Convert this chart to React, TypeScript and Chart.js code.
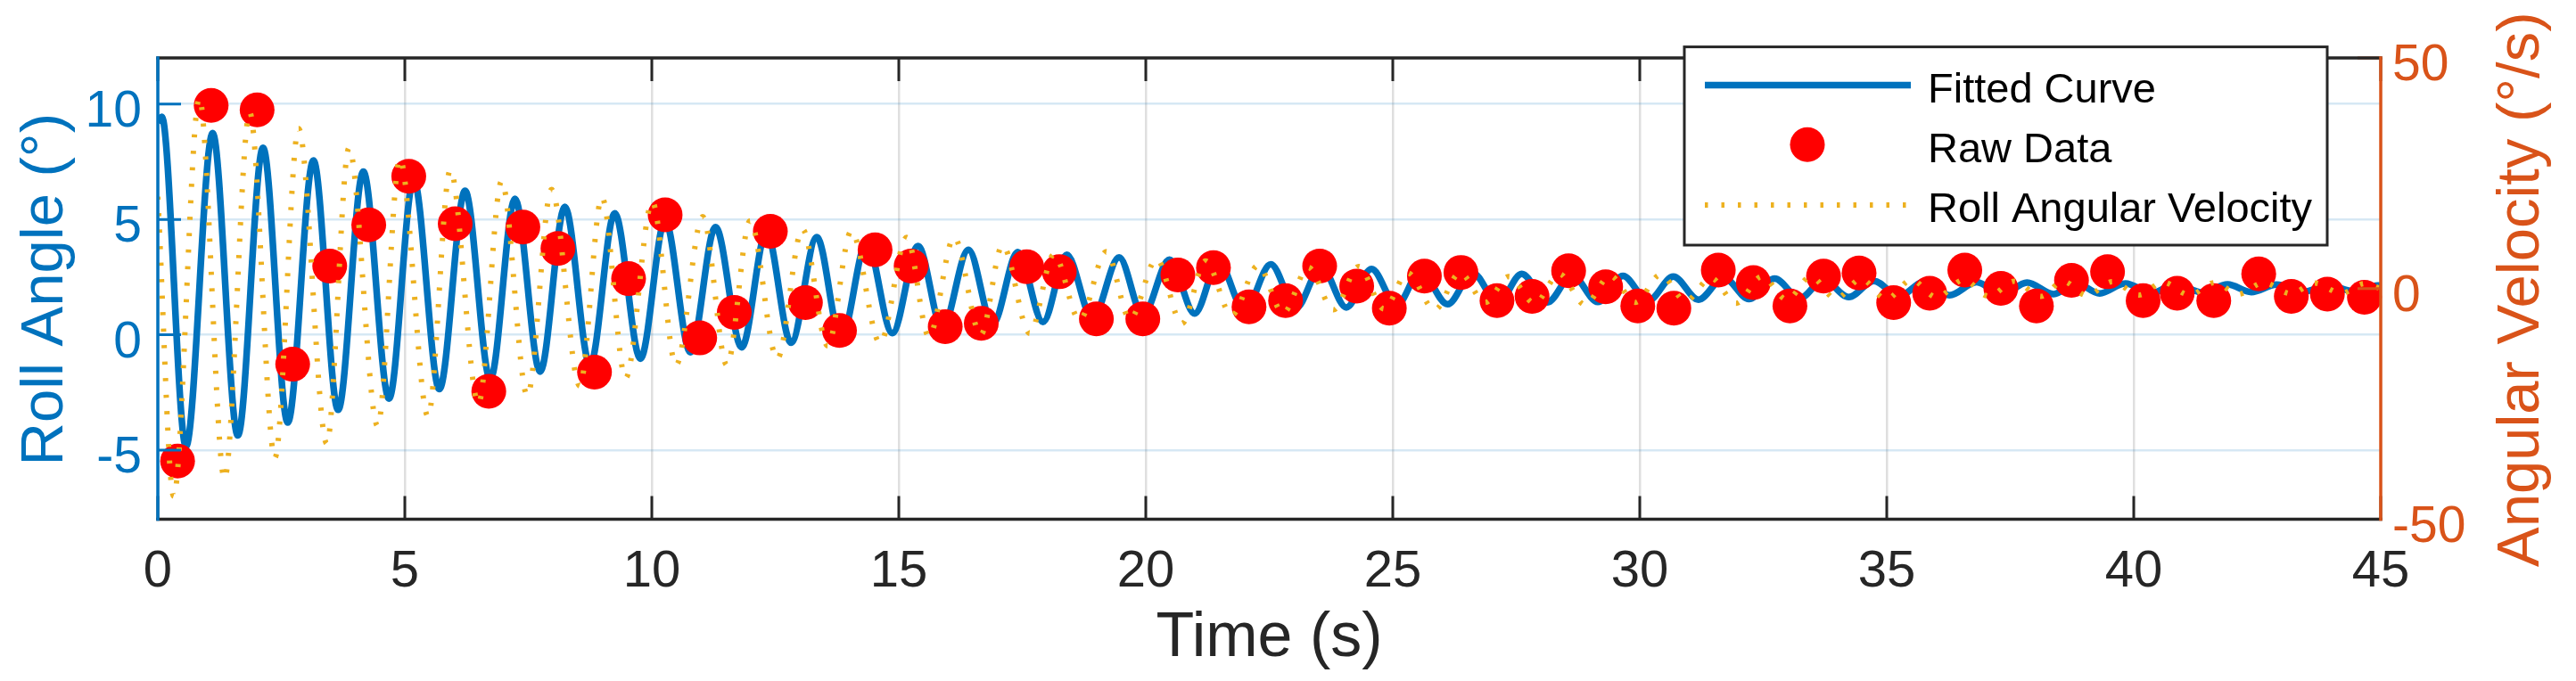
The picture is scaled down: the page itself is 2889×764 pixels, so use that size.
import React, { useEffect, useRef } from 'react';
import { Chart, registerables } from 'chart.js';

Chart.register(...registerables);

// ---------------- data ----------------
// Fitted curve: extrema of the damped roll oscillation (time s, angle °)
const fitTime = [
  0, 0.08,
  0.57, 1.11, 1.62, 2.13, 2.63, 3.15, 3.65, 4.16, 4.68, 5.18,
  5.70, 6.22, 6.73, 7.23, 7.74, 8.24, 8.75, 9.25, 9.77, 10.27,
  10.78, 11.29, 11.82, 12.32, 12.82, 13.34, 13.83, 14.35, 14.87, 15.39,
  15.88, 16.41, 16.90, 17.41, 17.92, 18.40, 18.92, 19.46, 19.94, 20.48,
  20.99, 21.47, 22.00, 22.53, 23.04, 23.55, 24.06, 24.57, 25.08, 25.56,
  26.11, 26.62, 27.13, 27.61, 28.13, 28.63, 29.15, 29.66, 30.17, 30.68,
  31.19, 31.70, 32.21, 32.73, 33.24, 33.72, 34.23, 34.74, 35.25, 35.76,
  36.27, 36.82, 37.33, 37.84, 38.38, 38.83, 39.31, 39.83, 40.37, 40.85,
  41.39, 41.90, 42.38, 42.89, 43.44, 43.92, 44.46, 44.94,
  45,
];
const fitAngle = [
  9.2, 9.45,
  -4.85, 8.74, -4.37, 8.11, -3.81, 7.56, -3.26, 7.07, -2.77, 6.73,
  -2.36, 6.24, -1.94, 5.89, -1.60, 5.55, -1.32, 5.27, -1.04, 4.95,
  -0.76, 4.67, -0.55, 4.45, -0.35, 4.23, -0.18, 4.0, 0.07, 3.85,
  0.27, 3.68, 0.45, 3.58, 0.55, 3.47, 0.70, 3.35, 0.85, 3.26,
  0.92, 3.15, 1.05, 3.05, 1.15, 2.95, 1.18, 2.85, 1.27, 2.75,
  1.32, 2.68, 1.37, 2.64, 1.40, 2.58, 1.42, 2.55, 1.47, 2.52,
  1.52, 2.47, 1.55, 2.43, 1.58, 2.38, 1.63, 2.33, 1.67, 2.30,
  1.71, 2.28, 1.74, 2.26, 1.76, 2.24, 1.79, 2.22, 1.81, 2.20,
  1.83, 2.18, 1.85, 2.17, 1.86, 2.15, 1.88, 2.14,
  2.13,
];

// Roll angular velocity: extrema (time s, °/s) on the right axis
const velTime = [
  0,
  0.32, 0.84, 1.35, 1.86, 2.37, 2.85, 3.42, 3.87, 4.45, 4.90,
  5.47, 5.92, 6.49, 6.96, 7.48, 7.97, 8.54, 8.99, 9.47, 10.01,
  10.49, 11.03, 11.52, 11.99, 12.54, 13.05, 13.56, 14.04, 14.62, 15.16,
  15.61, 16.12, 16.66, 17.10, 17.65, 18.14, 18.66, 19.20, 19.68, 20.22,
  20.73, 21.21, 21.74, 22.27, 22.78, 23.29, 23.80, 24.31, 24.82, 25.30,
  25.85, 26.36, 26.87, 27.35, 27.87, 28.37, 28.89, 29.40, 29.91, 30.42,
  30.93, 31.44, 31.95, 32.47, 32.98, 33.46, 33.97, 34.48, 34.99, 35.50,
  36.01, 36.56, 37.07, 37.58, 38.12, 38.57, 39.05, 39.57, 40.11, 40.59,
  41.13, 41.64, 42.12, 42.63, 43.18, 43.66, 44.20, 44.68,
  45,
];
const velValue = [
  19.9,
  -45.0, 41.3, -41.2, 38.2, -36.7, 34.7, -33.6, 30.5, -29.8, 28.1,
  -27.7, 25.7, -24.9, 23.3, -23.2, 21.5, -21.1, 19.8, -19.4, 18.8,
  -16.6, 15.6, -16.6, 14.7, -15.2, 12.9, -12.4, 12.5, -11.8, 11.1,
  -10.4, 11.1, -10.0, 9.4, -9.7, 7.4, -6.8, 8.0, -6.6, 6.4,
  -7.6, 6.0, -5.8, 5.0, -5.3, 4.6, -4.6, 4.8, -4.4, 3.4,
  -4.6, 3.4, -3.0, 2.6, -3.2, 3.2, -3.5, 2.8, -3.0, 3.0,
  -2.7, 2.3, -3.2, 2.6, -2.4, 2.6, -2.2, 2.1, -2.3, 1.9,
  -1.9, 1.9, -1.7, 1.6, -1.7, 1.6, -1.5, 1.5, -1.4, 1.4,
  -1.4, 1.3, -1.2, 1.3, -1.1, 1.2, -1.0, 1.1,
  0.0,
];

// Raw data samples (time s, angle °)
const rawTime = [
  0.40, 1.08, 2.01, 2.73, 3.48, 4.27, 5.08, 6.02, 6.70, 7.39,
  8.10, 8.84, 9.53, 10.27, 10.97, 11.67, 12.40, 13.11, 13.80, 14.52,
  15.25, 15.94, 16.67, 17.59, 18.25, 19.00, 19.94, 20.65, 21.37, 22.09,
  22.83, 23.52, 24.27, 24.93, 25.64, 26.38, 27.11, 27.82, 28.56, 29.31,
  29.96, 30.69, 31.59, 32.30, 33.04, 33.72, 34.44, 35.14, 35.87, 36.58,
  37.31, 38.03, 38.74, 39.47, 40.19, 40.88, 41.62, 42.53, 43.19, 43.92,
  44.67,
];
const rawAngle = [
  -5.48, 9.94, 9.75, -1.28, 2.98, 4.76, 6.87, 4.81, -2.45, 4.67,
  3.74, -1.62, 2.43, 5.20, -0.14, 0.97, 4.48, 1.39, 0.18, 3.68,
  2.98, 0.35, 0.49, 2.95, 2.73, 0.69, 0.69, 2.59, 2.91, 1.21,
  1.48, 2.98, 2.11, 1.15, 2.54, 2.70, 1.48, 1.66, 2.77, 2.08,
  1.25, 1.15, 2.80, 2.26, 1.25, 2.54, 2.68, 1.39, 1.80, 2.80,
  2.01, 1.25, 2.36, 2.73, 1.48, 1.80, 1.48, 2.64, 1.66, 1.76,
  1.62,
];

const xTicks = [0, 5, 10, 15, 20, 25, 30, 35, 40, 45];
const leftTicks = [-5, 0, 5, 10];
const rightTicks = [-50, 0, 50];
const xLimits = [0, 45];
const leftLimits = [-8, 12];
const rightLimits = [-50, 50];

const legendLabels = ['Fitted Curve', 'Raw Data', 'Roll Angular Velocity'];
const xTitle = 'Time (s)';
const leftTitle = 'Roll Angle (°)';
const rightTitle = 'Angular Velocity (°/s)';

// ---------------- styles ----------------
const BLUE = '#0072BD';
const ORANGE = '#D95319';
const YELLOW = '#EDB120';
const RED = '#FF0000';
const DARK = '#262626';
const FONT = '"Liberation Sans", Arial, Helvetica, sans-serif';

function text(ctx: CanvasRenderingContext2D, s: string, x: number, y: number, size: number, color: string, align: CanvasTextAlign) {
  ctx.font = `${size}px ${FONT}`;
  ctx.fillStyle = color;
  ctx.textAlign = align;
  ctx.textBaseline = 'alphabetic';
  ctx.fillText(s, x, y);
}

const framePlugin = {
  id: 'matlabFrame',
  afterDraw(chart: any) {
    const ctx: CanvasRenderingContext2D = chart.ctx;
    const a = chart.chartArea;
    const sx = chart.scales.x;
    const sy = chart.scales.y;
    const sy1 = chart.scales.y1;
    const tickLen = 26;
    ctx.save();

    // inward tick marks
    ctx.lineWidth = 3;
    ctx.strokeStyle = DARK;
    ctx.beginPath();
    xTicks.forEach((v) => {
      const px = sx.getPixelForValue(v);
      ctx.moveTo(px, a.bottom);
      ctx.lineTo(px, a.bottom - tickLen);
      ctx.moveTo(px, a.top);
      ctx.lineTo(px, a.top + tickLen);
    });
    ctx.stroke();
    ctx.strokeStyle = BLUE;
    ctx.beginPath();
    leftTicks.forEach((v) => {
      const py = sy.getPixelForValue(v);
      ctx.moveTo(a.left, py);
      ctx.lineTo(a.left + tickLen, py);
    });
    ctx.stroke();
    ctx.strokeStyle = ORANGE;
    ctx.beginPath();
    rightTicks.forEach((v) => {
      const py = sy1.getPixelForValue(v);
      ctx.moveTo(a.right, py);
      ctx.lineTo(a.right - tickLen, py);
    });
    ctx.stroke();

    // box
    ctx.lineWidth = 3.5;
    ctx.lineCap = 'square';
    ctx.strokeStyle = DARK;
    ctx.beginPath();
    ctx.moveTo(a.left, a.top);
    ctx.lineTo(a.right, a.top);
    ctx.moveTo(a.left, a.bottom);
    ctx.lineTo(a.right, a.bottom);
    ctx.stroke();
    ctx.strokeStyle = BLUE;
    ctx.beginPath();
    ctx.moveTo(a.left, a.top);
    ctx.lineTo(a.left, a.bottom);
    ctx.stroke();
    ctx.strokeStyle = ORANGE;
    ctx.beginPath();
    ctx.moveTo(a.right, a.top);
    ctx.lineTo(a.right, a.bottom);
    ctx.stroke();
    ctx.lineCap = 'butt';

    // tick labels
    xTicks.forEach((v) => text(ctx, String(v), sx.getPixelForValue(v), a.bottom + 75, 58, DARK, 'center'));
    leftTicks.forEach((v) => text(ctx, String(v), a.left - 18, sy.getPixelForValue(v) + 25, 57, BLUE, 'right'));
    rightTicks.forEach((v) => text(ctx, String(v), a.right + 13, sy1.getPixelForValue(v) + 25, 57, ORANGE, 'left'));

    // axis titles
    text(ctx, xTitle, (a.left + a.right) / 2, 736, 70, DARK, 'center');
    const midY = (a.top + a.bottom) / 2 + 1;
    ctx.save();
    ctx.translate(70, midY);
    ctx.rotate(-Math.PI / 2);
    text(ctx, leftTitle, 0, 0, 67, BLUE, 'center');
    ctx.restore();
    ctx.save();
    ctx.translate(2847, midY);
    ctx.rotate(-Math.PI / 2);
    text(ctx, rightTitle, 0, 0, 67, ORANGE, 'center');
    ctx.restore();

    // legend
    const lx = 1889, ly = 52.6, lw = 721, lh = 222.4;
    ctx.fillStyle = '#FFFFFF';
    ctx.fillRect(lx, ly, lw, lh);
    ctx.lineWidth = 3;
    ctx.strokeStyle = DARK;
    ctx.strokeRect(lx, ly, lw, lh);
    const rows = [95.5, 162.3, 230];
    // fitted curve sample
    ctx.strokeStyle = BLUE;
    ctx.lineWidth = 7.5;
    ctx.beginPath();
    ctx.moveTo(1912, rows[0]);
    ctx.lineTo(2143, rows[0]);
    ctx.stroke();
    // raw data sample
    ctx.fillStyle = RED;
    ctx.beginPath();
    ctx.arc(2027, rows[1], 19.5, 0, Math.PI * 2);
    ctx.fill();
    // velocity sample
    ctx.strokeStyle = YELLOW;
    ctx.lineWidth = 6;
    ctx.setLineDash([3.5, 15]);
    ctx.beginPath();
    ctx.moveTo(1912, rows[2]);
    ctx.lineTo(2143, rows[2]);
    ctx.stroke();
    ctx.setLineDash([]);
    const baselines = [115.4, 181.8, 249];
    legendLabels.forEach((s, i) => text(ctx, s, 2162, baselines[i], 47, '#000000', 'left'));

    ctx.restore();
  },
};

export default function App() {
  const ref = useRef<HTMLCanvasElement | null>(null);

  useEffect(() => {
    document.body.style.margin = '0';
    const canvas = ref.current;
    if (!canvas) return;

    const fitted = fitTime.map((t, i) => ({ x: t, y: fitAngle[i] }));
    const velocity = velTime.map((t, i) => ({ x: t, y: velValue[i] }));
    const raw = rawTime.map((t, i) => ({ x: t, y: rawAngle[i] }));

    const chart = new Chart(canvas, {
      type: 'line',
      data: {
        datasets: [
          {
            label: legendLabels[2],
            data: velocity,
            yAxisID: 'y1',
            borderColor: YELLOW,
            borderWidth: 6,
            borderDash: [3.5, 15],
            borderCapStyle: 'butt',
            pointRadius: 0,
            cubicInterpolationMode: 'monotone',
            fill: false,
            order: 0,
          },
          {
            label: legendLabels[1],
            data: raw,
            yAxisID: 'y',
            showLine: false,
            pointRadius: 19.5,
            pointStyle: 'circle',
            pointBackgroundColor: RED,
            pointBorderWidth: 0,
            pointBorderColor: RED,
            clip: false as any,
            order: 1,
          },
          {
            label: legendLabels[0],
            data: fitted,
            yAxisID: 'y',
            borderColor: BLUE,
            borderWidth: 7.5,
            pointRadius: 0,
            cubicInterpolationMode: 'monotone',
            fill: false,
            order: 2,
          },
        ],
      },
      options: {
        animation: false,
        responsive: false,
        devicePixelRatio: 1,
        events: [],
        layout: { padding: { top: 65, left: 0, right: 0, bottom: 0 } },
        plugins: { legend: { display: false }, tooltip: { enabled: false } },
        scales: {
          x: {
            type: 'linear',
            min: xLimits[0],
            max: xLimits[1],
            afterBuildTicks: (s: any) => { s.ticks = xTicks.map((v) => ({ value: v })); },
            afterFit: (s: any) => { s.height = 181.5; },
            ticks: { display: false },
            grid: { color: 'rgba(38,38,38,0.15)', lineWidth: 2.5, drawTicks: false },
            border: { display: false },
          },
          y: {
            type: 'linear',
            position: 'left',
            min: leftLimits[0],
            max: leftLimits[1],
            afterBuildTicks: (s: any) => { s.ticks = leftTicks.map((v) => ({ value: v })); },
            afterFit: (s: any) => { s.width = 177; },
            ticks: { display: false },
            grid: { color: 'rgba(0,114,189,0.16)', lineWidth: 2.5, drawTicks: false },
            border: { display: false },
          },
          y1: {
            type: 'linear',
            position: 'right',
            min: rightLimits[0],
            max: rightLimits[1],
            afterBuildTicks: (s: any) => { s.ticks = rightTicks.map((v) => ({ value: v })); },
            afterFit: (s: any) => { s.width = 219; },
            ticks: { display: false },
            grid: { display: false, drawTicks: false },
            border: { display: false },
          },
        },
      },
      plugins: [framePlugin],
    } as any);

    return () => chart.destroy();
  }, []);

  return (
    <div style={{ position: 'fixed', left: 0, top: 0, width: 2889, height: 764, background: '#FFFFFF' }}>
      <canvas ref={ref} width={2889} height={764} style={{ width: 2889, height: 764, display: 'block' }} />
    </div>
  );
}
